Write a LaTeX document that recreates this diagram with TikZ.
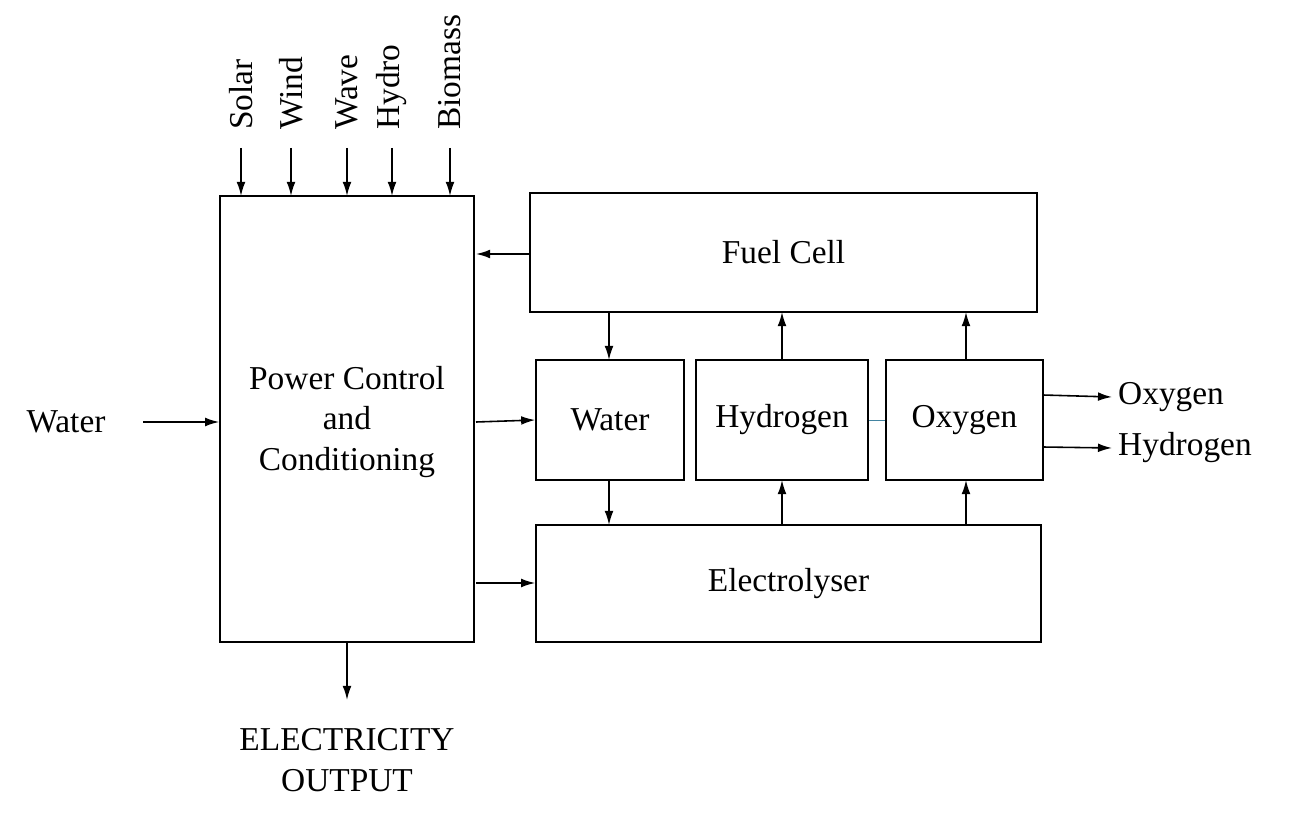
\documentclass[tikz,border=0pt]{standalone}
\usepackage{fontspec}
\setmainfont{Liberation Serif}
\usetikzlibrary{arrows.meta}
\begin{document}
\begin{tikzpicture}[x=0.02cm,y=-0.02cm,
  box/.style={draw,line width=0.9pt},
  arr/.style={-{Latex[length=8pt,width=5pt]},line width=0.9pt},
  txt/.style={font=\fontsize{19}{23}\selectfont,align=center}]
\useasboundingbox (0,0) rectangle (1310,820);
\node[box,minimum width=254*0.02cm,minimum height=446*0.02cm] (pc) at (347,419) {};
\node[txt] at (347,422) {Power Control\\and\\Conditioning};
\node[box,minimum width=507*0.02cm,minimum height=119*0.02cm,txt] (fc) at (783.5,252.5) {Fuel Cell};
\node[box,minimum width=148*0.02cm,minimum height=120*0.02cm,txt] (w) at (610,420) {Water};
\node[box,minimum width=172*0.02cm,minimum height=120*0.02cm,txt,inner sep=1pt] (h) at (782,420) {Hydrogen};
\node[box,minimum width=157*0.02cm,minimum height=120*0.02cm,txt] (o) at (964.5,420) {Oxygen};
\node[box,minimum width=505*0.02cm,minimum height=117*0.02cm,txt] (el) at (788.5,583.5) {Electrolyser};
\foreach \x/\t in {241/Solar,291/Wind,347/Wave,392/Hydro,450/Biomass}{
  \node[txt,rotate=90,anchor=west] (in\t) at (\x,136) {\t};
  \coordinate (s\t) at (\x,148);
  \draw[arr] (s\t) -- (\x,196);
}
\node[txt] (wl) at (66,422) {Water};
\draw[arr] (143,422) -- (pc.west |- 0,422);
\draw[arr] (fc.west |- 0,254) -- (476,254);
\draw[arr] (476,422) -- (w.west);
\draw[arr] (476,583) -- (el.west |- 0,583);
\draw[arr] (609,312) -- (609,360);
\draw[arr] (609,480) -- (609,525);
\draw[arr] (782,525) -- (782,480);
\draw[arr] (782,360) -- (782,312);
\draw[arr] (966,525) -- (966,480);
\draw[arr] (966,360) -- (966,312);
\draw[color=black!40!cyan,line width=0.5pt] (h.east) -- (o.west);
\node[txt,anchor=west] (ol) at (1112,397) {Oxygen};
\node[txt,anchor=west] (hl) at (1112,448) {Hydrogen};
\draw[arr] (1043,395) -- (ol.west);
\draw[arr] (1043,447) -- (hl.west);
\draw[arr] (347,642) -- (347,700);
\node[txt] (eo) at (347,760) {ELECTRICITY\\OUTPUT};
\end{tikzpicture}
\end{document}
